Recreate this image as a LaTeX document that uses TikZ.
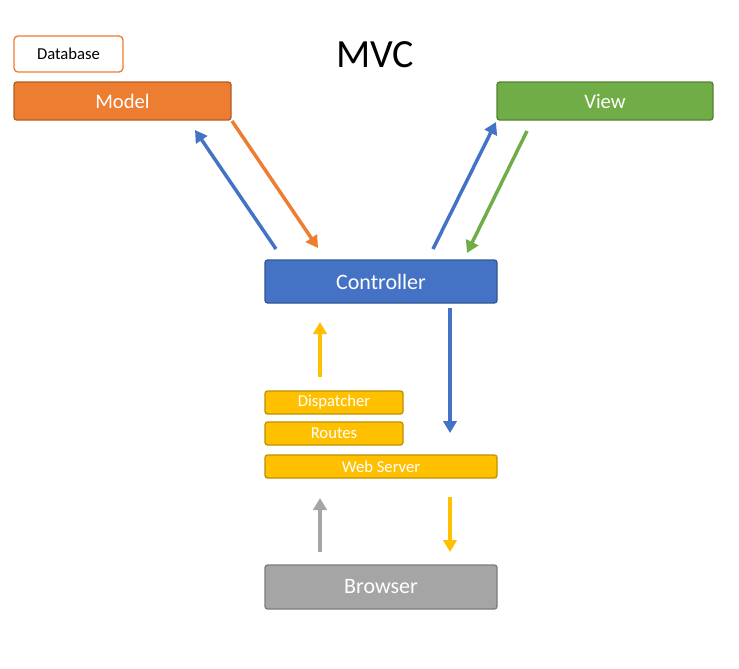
\documentclass[tikz,border=0pt]{standalone}
\usepackage{fontspec}
\setmainfont{Carlito}
\usetikzlibrary{arrows.meta}
\definecolor{org}{HTML}{ED7D31}
\definecolor{grn}{HTML}{70AD47}
\definecolor{blu}{HTML}{4472C4}
\definecolor{yel}{HTML}{FFC000}
\definecolor{gry}{HTML}{A5A5A5}
\begin{document}
\begin{tikzpicture}[x=0.75pt,y=-0.75pt,
 box/.style={draw=#1!75!black,fill=#1,rounded corners=2pt,line width=1pt,text=white,inner sep=0pt},
 arr/.style={draw=#1,line width=2.6pt,-{Triangle[length=9pt,width=10pt]},shorten >=0pt}]
\useasboundingbox (0,0) rectangle (739,668);
\node[font=\fontsize{30}{36}\selectfont] (title) at (375,55) {MVC};
\node[draw=org,fill=white,rounded corners=3pt,line width=1pt,minimum width=109*0.75pt,minimum height=36*0.75pt,inner sep=0pt,font=\fontsize{12.5}{15}\selectfont] (db) at (68.5,54) {Database};
\node[box=org,minimum width=217*0.75pt,minimum height=38*0.75pt,font=\fontsize{15.5}{18}\selectfont] (model) at (122.5,101) {Model};
\node[box=grn,minimum width=216*0.75pt,minimum height=38*0.75pt,font=\fontsize{15.5}{18}\selectfont] (view) at (605,101) {View};
\node[box=blu,minimum width=232*0.75pt,minimum height=43*0.75pt,font=\fontsize{16.5}{20}\selectfont] (ctrl) at (381,281.5) {Controller};
\node[box=yel,minimum width=138*0.75pt,minimum height=23*0.75pt,font=\fontsize{12.5}{15}\selectfont] (disp) at (334,402.5) {Dispatcher};
\node[box=yel,minimum width=138*0.75pt,minimum height=23*0.75pt,font=\fontsize{12.5}{15}\selectfont] (routes) at (334,433.5) {Routes};
\node[box=yel,minimum width=232*0.75pt,minimum height=23*0.75pt,font=\fontsize{12.5}{15}\selectfont] (web) at (381,466.5) {Web Server};
\node[box=gry,minimum width=232*0.75pt,minimum height=44*0.75pt,font=\fontsize{16.5}{20}\selectfont] (brow) at (381,587) {Browser};
\coordinate (a1s) at (276,249); \coordinate (a1e) at (195,130);
\coordinate (a2s) at (232,121); \coordinate (a2e) at (318,248);
\coordinate (a3s) at (433,249); \coordinate (a3e) at (496,122);
\coordinate (a4s) at (527,131); \coordinate (a4e) at (467,253);
\coordinate (a5s) at (320,377); \coordinate (a5e) at (320,322);
\coordinate (a6s) at (450,308); \coordinate (a6e) at (450,433);
\coordinate (a7s) at (320,552); \coordinate (a7e) at (320,498);
\coordinate (a8s) at (450,497); \coordinate (a8e) at (450,552);
\draw[arr=blu] (a1s) -- (a1e);
\draw[arr=org] (a2s) -- (a2e);
\draw[arr=blu] (a3s) -- (a3e);
\draw[arr=grn] (a4s) -- (a4e);
\draw[arr=yel] (a5s) -- (a5e);
\draw[arr=blu] (a6s) -- (a6e);
\draw[arr=gry] (a7s) -- (a7e);
\draw[arr=yel] (a8s) -- (a8e);
\end{tikzpicture}
\end{document}
